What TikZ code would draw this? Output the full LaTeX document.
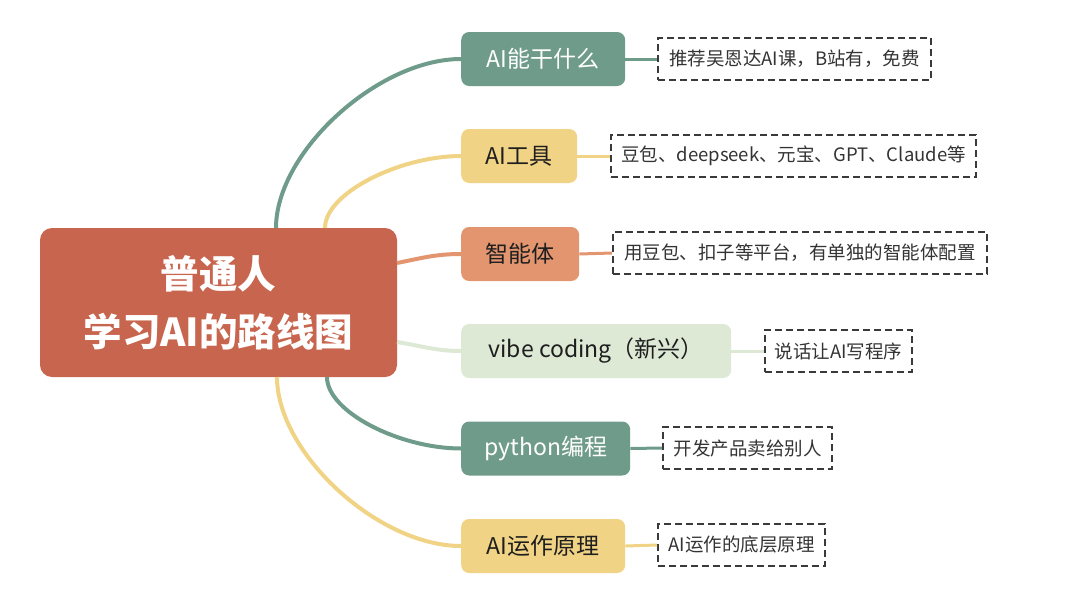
\documentclass[tikz,border=0pt]{standalone}
\usepackage{fontspec}
\setmainfont{Noto Sans CJK SC}
\definecolor{tealc}{HTML}{6F9B8B}
\definecolor{yellowc}{HTML}{F0D384}
\definecolor{salmonc}{HTML}{E39570}
\definecolor{lgreenc}{HTML}{DDE8D5}
\definecolor{centralc}{HTML}{C8654E}
\definecolor{dashc}{HTML}{3A3A3A}
\definecolor{darktext}{HTML}{1E1E1E}
\definecolor{leaftext}{HTML}{333333}
\begin{document}
\begin{tikzpicture}[x=1pt,y=-1pt,
  branch/.style={rounded corners=8pt, minimum height=54pt, inner xsep=0pt, inner ysep=0pt, font=\fontsize{23}{27}\selectfont, anchor=west},
  leaf/.style={draw=dashc, line width=2pt, dash pattern=on 7pt off 4pt, minimum height=42pt, inner xsep=0pt, inner ysep=0pt, font=\fontsize{18.5}{22}\selectfont, text=leaftext, anchor=west},
  curve/.style={line width=4pt},
  link/.style={line width=3pt}]
\useasboundingbox (0,0) rectangle (1080,600);

\node[fill=centralc, rounded corners=12pt, minimum width=357pt, minimum height=149pt, inner sep=0pt, text=white, font=\fontsize{38.5}{58}\selectfont\bfseries, align=center] (c) at (218.5,302.5) {普通人\\学习AI的路线图};

\node[branch, fill=tealc, text=white, minimum width=164pt] (b1) at (461,59) {AI能干什么};
\node[branch, fill=yellowc, text=darktext, minimum width=116pt] (b2) at (461,156) {AI工具};
\node[branch, fill=salmonc, text=darktext, minimum width=118pt] (b3) at (461,254) {智能体};
\node[branch, fill=lgreenc, text=darktext, minimum width=270pt] (b4) at (461,351) {vibe coding（新兴）};
\node[branch, fill=tealc, text=white, minimum width=169pt] (b5) at (461,448.5) {python编程};
\node[branch, fill=yellowc, text=darktext, minimum width=164pt] (b6) at (461,546) {AI运作原理};

\node[leaf, minimum width=273pt] (l1) at (657,59) {推荐吴恩达AI课，B站有，免费};
\node[leaf, minimum width=365pt] (l2) at (610,156) {豆包、deepseek、元宝、GPT、Claude等};
\node[leaf, minimum width=374pt] (l3) at (612,253) {用豆包、扣子等平台，有单独的智能体配置};
\node[leaf, minimum width=147pt] (l4) at (764,351) {说话让AI写程序};
\node[leaf, minimum width=169pt] (l5) at (662,448) {开发产品卖给别人};
\node[leaf, minimum width=167pt] (l6) at (657,545) {AI运作的底层原理};

\coordinate (s1) at (276,228);
\coordinate (s2) at (325,228);
\coordinate (s3) at (397,263);
\coordinate (s4) at (397,342);
\coordinate (s5) at (327,377);
\coordinate (s6) at (277,377);

\draw[curve, tealc] (s1) .. controls +(0,-76) and +(-83,0) .. (b1.west);
\draw[curve, yellowc] (s2) .. controls +(0,-35) and +(-61,0) .. (b2.west);
\draw[curve, salmonc] (s3) .. controls +(25,-5) and +(-25,0) .. (b3.west);
\draw[curve, lgreenc] (s4) .. controls +(25,4) and +(-25,0) .. (b4.west);
\draw[curve, tealc] (s5) .. controls +(0,35) and +(-61,0) .. (b5.west);
\draw[curve, yellowc] (s6) .. controls +(0,76) and +(-83,0) .. (b6.west);

\draw[link, tealc] (b1.east) -- (l1.west);
\draw[link, yellowc] (b2.east) -- (l2.west);
\draw[link, salmonc] (b3.east) -- (l3.west);
\draw[link, lgreenc] (b4.east) -- (l4.west);
\draw[link, tealc] (b5.east) -- (l5.west);
\draw[link, yellowc] (b6.east) -- (l6.west);
\end{tikzpicture}
\end{document}
